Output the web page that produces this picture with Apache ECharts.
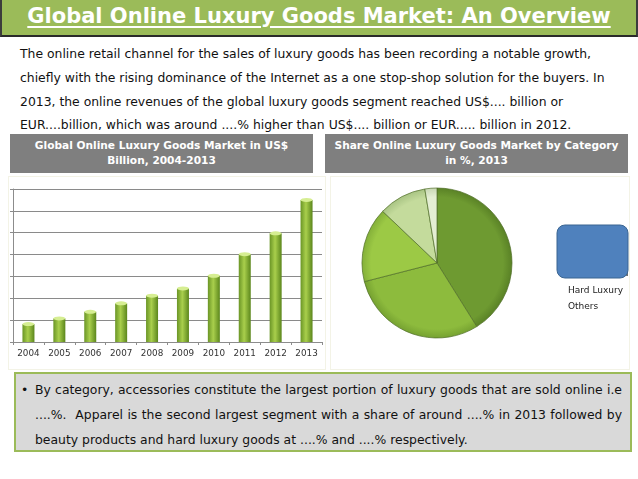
<!DOCTYPE html>
<html>
<head>
<meta charset="utf-8">
<script src="https://cdn.jsdelivr.net/npm/echarts@6/dist/echarts.min.js"></script>
<style>
  html, body { margin: 0; padding: 0; background: #fff; }
  #page { position: relative; width: 638px; height: 479px; overflow: hidden; font-family: 'DejaVu Sans', Verdana, sans-serif; }
  #titleBar { position: absolute; left: 0; top: 0; width: 634px; height: 35px; background: #9bbb59;
    border-left: 2px solid #3c3c3c; border-right: 2px solid #3c3c3c; border-bottom: 2px solid #2a2a2a; }
  #titleBar span { position: absolute; left: 0; right: 0; top: 4px; text-align: center; color: #fff; font-weight: bold;
    font-size: 21px; text-decoration: underline; text-underline-offset: 3px; }
  #intro { position: absolute; left: 20px; top: 42px; font-size: 12.4px; line-height: 23.8px; color: #111; white-space: nowrap; }
  .head { position: absolute; top: 134px; height: 39px; width: 303px; background: #7f7f7f; color: #fff; font-weight: bold;
    font-size: 10.6px; line-height: 14.5px; text-align: center; padding-top: 4px; box-sizing: border-box; }
  .area { position: absolute; top: 176px; height: 194px; border: 1px solid #f3f3e6; box-sizing: border-box; }
  #barChart { position: absolute; left: 0; top: 180px; width: 330px; height: 190px; }
  #pieChart { position: absolute; left: 320px; top: 175px; width: 318px; height: 195px; }
  #note { position: absolute; left: 14px; top: 372px; width: 618px; height: 80px; background: #d9d9d9; border: 2px solid #9bbb59;
    box-sizing: border-box; font-size: 12.4px; line-height: 25px; color: #111; padding: 3px 8px 0 19px; }
  #note .ln { display: block; white-space: nowrap; }
  #note .j { text-align: justify; text-align-last: justify; white-space: normal; }
  #note .bullet { position: absolute; left: 5px; top: 3px; }
</style>
</head>
<body>
<div id="page">
  <div id="titleBar"><span>Global Online Luxury Goods Market: An Overview</span></div>
  <div id="intro">
    The online retail channel for the sales of luxury goods has been recording a notable growth,<br>
    chiefly with the rising dominance of the Internet as a one stop-shop solution for the buyers. In<br>
    2013, the online revenues of the global luxury goods segment reached US$.... billion or<br>
    EUR....billion, which was around ....% higher than US$.... billion or EUR..... billion in 2012.
  </div>
  <div class="head" style="left:10px;">Global Online Luxury Goods Market in US$<br>Billion, 2004-2013</div>
  <div class="head" style="left:325px;">Share Online Luxury Goods Market by Category<br>in %, 2013</div>
  <div class="area" style="left:8px; width:318px;"></div>
  <div class="area" style="left:330px; width:300px;"></div>
  <div id="barChart"></div>
  <div id="pieChart"></div>
  <div id="note">
    <span class="bullet">•</span>
    <span class="ln j">By category, accessories constitute the largest portion of luxury goods that are sold online i.e</span>
    <span class="ln j">....%.&nbsp; Apparel is the second largest segment with a share of around ....% in 2013 followed by</span>
    <span class="ln">beauty products and hard luxury goods at ....% and ....% respectively.</span>
  </div>
</div>
<script>
const years = ['2004', '2005', '2006', '2007', '2008', '2009', '2010', '2011', '2012', '2013'];
const marketValues = [0.82, 1.08, 1.38, 1.77, 2.12, 2.45, 3.03, 4.02, 4.97, 6.5];
const yMax = 7;
const yStep = 1;

// pie chart data (% share 2013)
const categories = ['Accessories', 'Apparel', 'Beauty Products', 'Hard Luxury', 'Others'];
const shares = [41.1, 29.9, 16.1, 10.3, 2.6];
const sliceColors = ['#6e9a31', '#8dbb3d', '#9cc945', '#c4db9c', '#e4eed3'];
const sliceRims = ['#5a8226', '#76a231', '#84b039', '#a9c484', '#c8d7b3'];

const font = 'DejaVu Sans, Verdana, sans-serif';

// bar chart
const barChart = echarts.init(document.getElementById('barChart'));
barChart.setOption({
  animation: false,
  grid: { left: 13, right: 8, top: 9, bottom: 28 },
  xAxis: {
    type: 'category',
    data: years,
    axisLine: { lineStyle: { color: '#8c8c8c' } },
    axisTick: { show: true, length: 3, lineStyle: { color: '#8c8c8c' } },
    axisLabel: { color: '#333', fontSize: 8.8, fontFamily: font, margin: 7 }
  },
  yAxis: {
    type: 'value',
    min: 0,
    max: yMax,
    interval: yStep,
    axisLabel: { show: false },
    axisLine: { show: true, lineStyle: { color: '#8c8c8c' } },
    axisTick: { show: true, length: 3, lineStyle: { color: '#8c8c8c' } },
    splitLine: { lineStyle: { color: '#8a8a8a' } }
  },
  series: [
    {
      type: 'bar',
      data: marketValues,
      barWidth: 12,
      itemStyle: {
        color: new echarts.graphic.LinearGradient(0, 0, 1, 0, [
          { offset: 0, color: '#6a9526' },
          { offset: 0.45, color: '#a9cf4c' },
          { offset: 1, color: '#5b861c' }
        ])
      }
    },
    {
      type: 'pictorialBar',
      data: marketValues,
      symbol: 'path://M0,5A5,5 0 1,1 10,5A5,5 0 1,1 0,5Z',
      symbolSize: [12, 4],
      symbolPosition: 'end',
      symbolOffset: [0, '-50%'],
      z: 3,
      itemStyle: { color: '#d6ee92' }
    }
  ]
});

// pie chart
const cx = 117, cy = 88, r = 75;
const pieChart = echarts.init(document.getElementById('pieChart'));
pieChart.setOption({
  animation: false,
  legend: {
    orient: 'vertical',
    left: 238,
    top: 56,
    icon: 'none',
    itemWidth: 0,
    itemHeight: 10,
    itemGap: 7,
    textStyle: { fontSize: 9, color: '#222', fontFamily: font, width: 62, overflow: 'truncate', ellipsis: '' },
    data: categories
  },
  graphic: [
    {
      type: 'rect',
      z: 100,
      shape: { x: 237, y: 50, width: 71, height: 53, r: 8 },
      style: { fill: '#4f81bd', stroke: '#3a6591', lineWidth: 1 }
    }
  ],
  series: [
    {
      type: 'pie',
      center: [cx, cy],
      radius: r,
      startAngle: 90,
      clockwise: true,
      label: { show: false },
      labelLine: { show: false },
      data: categories.map((name, i) => ({
        name: name,
        value: shares[i],
        itemStyle: {
          color: {
            type: 'radial', x: cx, y: cy, r: r, global: true,
            colorStops: [
              { offset: 0, color: sliceColors[i] },
              { offset: 0.88, color: sliceColors[i] },
              { offset: 1, color: sliceRims[i] }
            ]
          },
          borderColor: 'rgba(80,110,40,0.7)',
          borderWidth: 1
        }
      }))
    }
  ]
});
</script>
</body>
</html>
